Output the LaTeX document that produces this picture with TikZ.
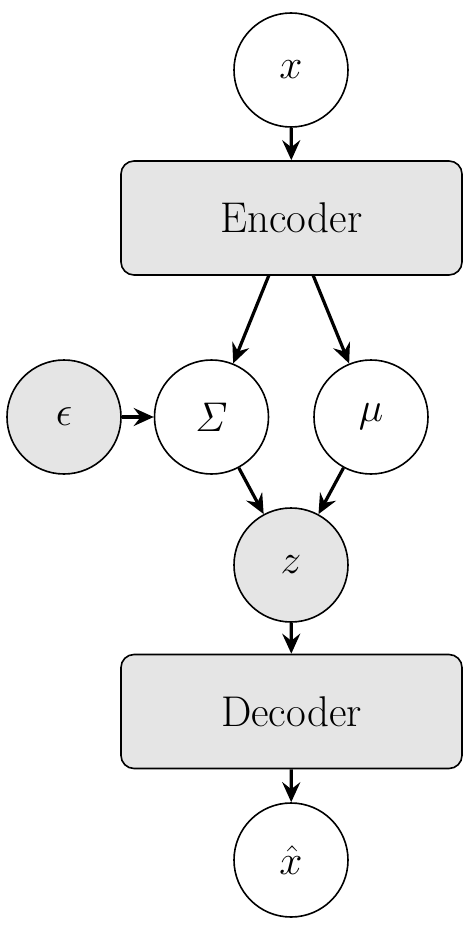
\documentclass[tikz,border=0pt]{standalone}
\usetikzlibrary{arrows.meta}
\begin{document}
\begin{tikzpicture}[x=0.5pt,y=-0.5pt,
  every node/.style={font=\fontsize{21.5}{26}\selectfont},
  var/.style={circle,draw,line width=0.8pt,minimum size=57pt,inner sep=0pt},
  obs/.style={var,fill=white},
  lat/.style={var,fill=gray!20},
  netbox/.style={draw,line width=0.8pt,fill=gray!20,rounded corners=6.5pt,minimum width=170.5pt,minimum height=57pt},
  conn/.style={line width=1.6pt,-{Stealth[length=10pt,width=9pt,inset=3.5pt]}}]
\useasboundingbox (0,0) rectangle (473,925);
\node[obs] (x) at (291,70) {$x$};
\node[netbox] (enc) at (291.5,218) {Encoder};
\node[lat] (eps) at (64,417) {$\epsilon$};
\node[obs] (sig) at (211.5,417) {$\mathit{\Sigma}$};
\node[obs] (mu) at (371,417) {$\mu$};
\node[lat] (z) at (291,565) {$z$};
\node[netbox] (dec) at (291.5,711.5) {Decoder};
\node[obs] (xh) at (291,860) {$\hat{x}$};
\coordinate (encl) at (269,275);
\coordinate (encr) at (313,275);
\draw[conn] (x) -- (enc);
\draw[conn] (encl) -- (sig);
\draw[conn] (encr) -- (mu);
\draw[conn] (eps) -- (sig);
\draw[conn] (sig) -- (z);
\draw[conn] (mu) -- (z);
\draw[conn] (z) -- (dec);
\draw[conn] (dec) -- (xh);
\end{tikzpicture}
\end{document}
